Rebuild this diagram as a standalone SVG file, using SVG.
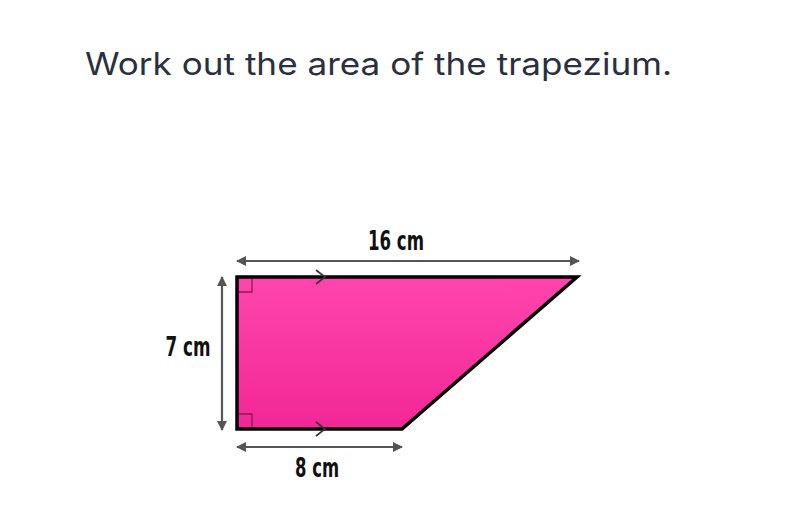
<svg xmlns="http://www.w3.org/2000/svg" width="802" height="528" viewBox="0 0 802 528">
<defs>
<linearGradient id="pink" x1="0" y1="0" x2="0" y2="1">
<stop offset="0" stop-color="#ff45ad"/>
<stop offset="1" stop-color="#f22796"/>
</linearGradient>
<marker id="ah" viewBox="0 0 10 10" refX="9" refY="5" markerWidth="10" markerHeight="10" markerUnits="userSpaceOnUse" orient="auto-start-reverse">
<path d="M0,0 L10,5 L0,10 z" fill="#555"/>
</marker>
<style>
.dim{stroke:#555;stroke-width:2.2;fill:none;marker-start:url(#ah);marker-end:url(#ah)}
.lbl{font-family:"DejaVu Sans Condensed","DejaVu Sans",sans-serif;font-stretch:condensed;font-weight:bold;font-size:26px;fill:#111;text-anchor:middle}
.ra{fill:none;stroke:#8a1a55;stroke-width:1.3}
.par{fill:none;stroke:#333;stroke-width:1.6}
</style>
</defs>
<rect width="802" height="528" fill="#fff"/>
<text x="85" y="75" font-family="Inter, 'Noto Sans', sans-serif" font-size="31" fill="#2b3040" textLength="587" lengthAdjust="spacingAndGlyphs">Work out the area of the trapezium.</text>
<g id="trapezium">
<path d="M237,277 L577,277 L402,429 L237,429 Z" fill="url(#pink)" stroke="#000" stroke-width="3.5" stroke-linejoin="miter"/>
<path class="ra" d="M239,292 H252 V279"/>
<path class="ra" d="M239,414 H252 V427"/>
<path class="par" d="M316,270 L325,277 L316,284"/>
<path class="par" d="M316,422 L325,429 L316,436"/>
</g>
<g id="connectors">
<line class="dim" x1="237" y1="261" x2="579" y2="261"/>
<line class="dim" x1="222" y1="277" x2="222" y2="430"/>
<line class="dim" x1="237" y1="447" x2="402" y2="447"/>
</g>
<g id="labels">
<text class="lbl" x="396" y="250" textLength="56" lengthAdjust="spacingAndGlyphs">16 cm</text>
<text class="lbl" x="188" y="356" textLength="45" lengthAdjust="spacingAndGlyphs">7 cm</text>
<text class="lbl" x="317" y="477" textLength="44" lengthAdjust="spacingAndGlyphs">8 cm</text>
</g>
</svg>
